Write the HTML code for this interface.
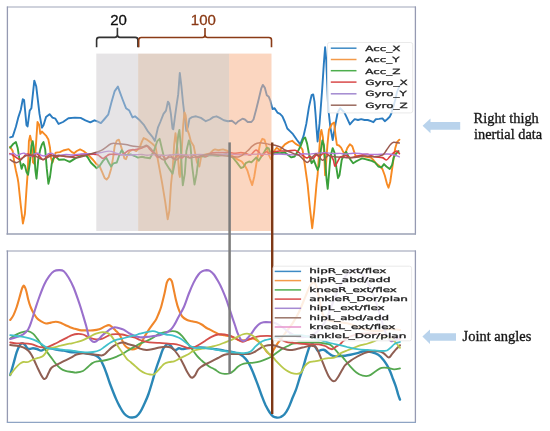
<!DOCTYPE html>
<html><head><meta charset="utf-8">
<style>
html,body{margin:0;padding:0;background:#fff;}
body{width:550px;height:431px;overflow:hidden;position:relative;}
svg{position:absolute;left:0;top:0;font-variant-ligatures:none;}
.lg{font-family:"DejaVu Sans",sans-serif;fill:#1e1e1e;stroke:#1e1e1e;stroke-width:0.3;}
.sf{font-family:"Liberation Serif",serif;fill:#161616;stroke:#161616;stroke-width:0.32;}
</style></head>
<body>
<svg width="550" height="431" viewBox="0 0 550 431">
<defs><filter id="bl" x="0" y="0" width="100%" height="100%" filterUnits="userSpaceOnUse"><feGaussianBlur stdDeviation="0.4"/></filter></defs>
<g filter="url(#bl)">
<rect x="0" y="0" width="550" height="431" fill="#fff"/>

<!-- top panel border -->
<line x1="6.9" y1="7" x2="416" y2="7" stroke="#bfc3d1" stroke-width="1.4"/>
<line x1="7.4" y1="6.5" x2="7.4" y2="234.5" stroke="#959ab2" stroke-width="1.3"/>
<line x1="415.4" y1="6.5" x2="415.4" y2="234.5" stroke="#959ab2" stroke-width="1.3"/>
<line x1="6.5" y1="233.9" x2="416" y2="233.9" stroke="#9aa0b4" stroke-width="1.5"/>

<!-- bottom panel border -->
<line x1="6.5" y1="251" x2="416" y2="251" stroke="#b8bccb" stroke-width="1.6"/>
<line x1="7.4" y1="250.5" x2="7.4" y2="422.5" stroke="#959ab2" stroke-width="1.3"/>
<line x1="415.4" y1="250.5" x2="415.4" y2="422.5" stroke="#959ab2" stroke-width="1.3"/>
<line x1="6.8" y1="422.4" x2="416" y2="422.4" stroke="#8ea4c4" stroke-width="1.2"/>

<!-- brackets -->
<path d="M96.6 47.3 V40 Q96.6 37.4 99.2 37.4 H114.8 Q117.4 37.4 117.4 34.6 V27.7 M117.4 34.6 Q117.4 37.4 120 37.4 H135.3 Q137.9 37.4 137.9 40 V47.3" fill="none" stroke="#303030" stroke-width="1.6"/>
<path d="M138.7 47.3 V40 Q138.7 37.5 141.3 37.5 H202.4 Q205 37.5 205 34.7 V28 M205 34.7 Q205 37.5 207.6 37.5 H268.9 Q271.5 37.5 271.5 40 V47.3" fill="none" stroke="#8a3a15" stroke-width="1.6"/>
<text x="110.2" y="25.2" font-family="'Liberation Sans',sans-serif" font-size="15" fill="#111" stroke="#111" stroke-width="0.3">20</text>
<text x="190.8" y="24.5" font-family="'Liberation Sans',sans-serif" font-size="15" fill="#8a3a15" stroke="#8a3a15" stroke-width="0.3" textLength="25" lengthAdjust="spacingAndGlyphs">100</text>

<!-- CURVES -->
<g fill="none" stroke-linejoin="round" stroke-linecap="round">
<path d="M10.2 137.4 L12.7 136.6 L15.9 126.8 L18.4 117.1 L20.8 109.8 L22.8 99.2 L24.1 100 L26.5 125.2 L27.6 126.5 L29.7 110.6 L31.4 108.2 L34.3 80.6 L36.2 86.2 L39.5 113.9 L41.9 127.7 L43.5 125.2 L46 117.1 L49.6 114.2 L52.5 117.6 L55.4 118.7 L58.6 123.9 L63 122 L68.4 118.2 L74.9 117.6 L80.6 117.9 L85.4 120.3 L90.3 122.3 L94.4 120.3 L96.8 121.2 L100.9 123.1 L104.1 119.5 L108.2 114.7 L111.4 102.5 L114.7 91.1 L117.9 86.6 L119.5 91.1 L122.8 100 L126 108.2 L129.3 110.6 L132.5 117.4 L135 116.3 L139.8 120.3 L144.1 125.2 L148.1 131.7 L152.2 136.6 L154.9 140.9 L157.9 127.7 L160.3 122 L163.5 113.9 L166 110.6 L167.9 101.7 L169.2 103.3 L170.9 113.9 L172.5 128.5 L173.3 129.3 L174.9 117.1 L176.5 105.7 L178.2 94.4 L179.8 72.9 L181.4 86.2 L183 102.5 L184.7 117.1 L186.3 130.9 L187.9 126.8 L189.5 118.7 L192 117.1 L196 116.3 L200.9 117.9 L205.8 121.2 L209.8 119.5 L213.2 117.1 L216.5 116.3 L219.7 117.9 L223.8 120.3 L227.9 121.2 L231.9 120.7 L233.5 122 L235.7 123.9 L238.4 121.2 L242.5 118.7 L244.9 119.5 L247.7 122 L251.4 122 L253.5 119.5 L256.3 109 L258.7 99.2 L261.2 88.7 L262.8 84.9 L264.9 87.9 L266.8 95.2 L268.8 96.8 L270.4 100.9 L272.5 109 L274.6 108.2 L277.4 112.6 L280 113.9 L282.4 116.3 L284.9 122 L287.3 128.5 L289.7 130.9 L293 134.2 L297 140 L300.3 144.4 L303.5 136.2 L306.3 123.9 L308.9 107.4 L310.5 100 L311.6 95.2 L313.2 94.4 L314.5 101.7 L315.6 115 L316.5 128 L317.6 141.5 L319.5 123.9 L320.6 110 L322.2 88.7 L323.8 64.4 L325.1 47.3 L326.2 59.5 L327.1 80.6 L327.9 101.7 L328.7 112.2 L330.3 126.8 L332.7 140 L335.5 123.9 L337.6 112.8 L340.1 108.2 L344.2 112.2 L346.6 117.1 L349.9 124.4 L352.3 121.7 L354.7 119.2 L358 120 L361.2 119.2 L364.5 120 L367.7 120 L371 121.2 L373.4 122.2 L375.9 119.2 L379.1 118.9 L382.4 118.4 L384.8 121.2 L387.2 119.2 L389.7 116.8 L391.3 113.5 L392.9 107.9 L395.3 99.7 L397 92 L399.5 86" stroke="#2a7bc0" stroke-width="1.9"/>
<path d="M10.2 146.9 L12.7 151 L14.3 162.4 L15.9 170.5 L17.6 178 L18.4 182.9 L20.8 205.6 L22.9 223.5 L24.9 213.7 L26.5 189.4 L27.8 171.5 L28.9 141.2 L30.1 135.6 L31.4 141.2 L33 162.4 L34.6 164 L36.2 141.2 L37.5 122 L39.2 125 L40.3 133.9 L41.9 131.5 L43.5 133.1 L46 135.6 L48.4 139.6 L50 147.7 L50.9 157.5 L52.5 162.4 L54.1 157.5 L55.7 152.6 L59.9 152.1 L63.2 150.5 L68.6 149.1 L71.9 152.1 L74.1 153.2 L76.8 151 L80.1 149.4 L83.4 151 L86.7 153.6 L90 156.8 L93.2 160 L96.5 164.1 L99.7 166.5 L102.2 172.2 L104.6 177.9 L106.6 179.5 L108.7 177.1 L111.1 169 L113.1 157.6 L114.7 146.2 L116.8 140.6 L118.9 139.7 L120.5 144.6 L122.5 151.1 L124.4 158.4 L126 159.2 L127.7 154.4 L129.8 151.1 L133 149.5 L136.3 151.1 L139.5 147.9 L142 141.4 L143.6 138.1 L147 139.7 L149.1 141.2 L152.3 143.7 L155.6 146.9 L158 160.7 L160.4 173.7 L162.1 182.9 L165.3 202.4 L167.7 219.4 L169.4 210.5 L171 184.5 L172.6 170 L174.2 144.5 L175.5 133.1 L177.5 149.4 L179.1 173.7 L179.9 177 L181.5 154.2 L183.2 125 L184.5 112.4 L185.6 115 L187.4 129.8 L189.1 134.4 L190.9 141.4 L193.7 146.1 L195.3 154.2 L197 162.4 L199.4 166.4 L201 157.5 L203.5 155 L206.7 154.2 L210 153.4 L213.2 150.2 L215 149.4 L218.1 150.2 L223 149.4 L227.9 151 L231.1 155 L234.4 157.5 L238.4 159.9 L241.7 161.5 L244.9 165.6 L247.4 170.5 L249.8 178.6 L252.2 185.1 L254.2 177 L256.3 164 L258.7 151 L260.3 142.9 L262.3 138.8 L264.4 139.6 L266 144.5 L267.7 151 L269.3 155.9 L270.9 159.1 L274.2 151 L276.6 147.7 L280 150 L284.9 144.4 L288.9 141.9 L292.2 140.8 L295.4 143.6 L297.9 145.2 L300 146.2 L302.5 149.6 L304.8 164.7 L307.6 184.4 L310 208.7 L312.2 228.2 L314.1 212 L316.5 184.4 L317.6 175.2 L319.1 152.6 L320.3 134.5 L321.4 130 L322.9 137.5 L324.4 157.1 L325.1 175.2 L325.9 166.2 L327.4 145.1 L328.9 130 L331.9 124 L334.1 122.5 L335.5 135.1 L336.9 144.8 L339 145.5 L341.1 147.6 L343.2 151.8 L345 154 L347.4 147.9 L349.9 144.3 L352.3 146.2 L353.9 151.1 L355.6 156 L358 156.8 L361.2 156 L366.1 156.8 L371 157.6 L373.4 160 L375.9 163.3 L379.1 165.7 L382.4 169 L384.8 175.5 L386.9 183.6 L388.5 187.7 L390.2 182 L392.1 169 L393.7 157.6 L395.3 147.9 L397 142.2 L399.4 139.7" stroke="#f78a22" stroke-width="1.9"/>
<path d="M10.2 147.7 L13.5 143.7 L15.9 142 L17.6 147.7 L19.2 157.5 L21.6 168.9 L23.2 164 L24.9 165.6 L26.5 172.1 L28.1 174.7 L29.7 164 L31.4 146.1 L32.7 141.2 L33.8 147.7 L35.4 170.5 L36.5 178.7 L38.3 159.1 L40.3 149.4 L41.9 144.5 L43.5 142 L45.2 149.4 L46.8 168.9 L48.4 183.7 L50 177 L51.7 164 L53.3 158.3 L55.7 156.5 L58.8 159.7 L64.3 159.5 L69.7 161.9 L75.7 158.1 L81.9 155.7 L85.9 155.2 L88.4 158.4 L90.8 162.5 L94.1 165.7 L96.5 168.2 L99.7 165.7 L103 160.9 L106.2 157.6 L108.7 162.5 L111.1 166.5 L113.5 163.3 L116.8 162.5 L119.6 154.4 L121.7 150.3 L124.1 153.6 L126.5 155.2 L130.6 154.4 L134.7 156 L137.9 157.6 L142 156.8 L145 157.5 L149.9 158.3 L153.9 151 L157.2 141.2 L159.6 138.8 L162.1 149.4 L165.3 162.4 L169.4 168.9 L172.6 173.7 L175.9 157.5 L178.3 134.7 L179.4 129.9 L180.7 144.5 L182 173.7 L182.8 185.3 L184.8 173.7 L186.4 151 L188.9 140.4 L190.5 146.1 L192.1 165.6 L194.5 184.5 L196.6 173.7 L198.6 157.5 L201 155.9 L205.1 156.7 L210 155 L218.1 155.9 L226.2 154.2 L232.7 157.5 L236.8 162.4 L240.9 168 L243.3 167.2 L245.7 163.2 L249 161.5 L251.4 162.4 L253.9 159.9 L256.3 157.5 L258.7 160.7 L261.2 156.7 L264.4 151.8 L266.8 147.7 L268.8 148.5 L270.9 154.2 L275 152.6 L280 153.3 L284.9 152.5 L288.1 154.9 L291.4 157.4 L294.6 156.5 L298 151.1 L301 145.1 L303.3 139 L305.2 137.5 L307.1 143.6 L309.3 155.6 L311.6 163.2 L313.8 160.1 L316.1 166.2 L317.6 169.9 L319.1 166.2 L320.9 149.6 L322.4 140.5 L323.9 145.1 L325.1 160.1 L326.6 179.7 L327.7 188.8 L328.9 175.2 L330.4 157.1 L332.7 148.1 L334.5 152.6 L336.4 167.7 L338 178.2 L339.5 175.2 L341.7 160.1 L344 154.1 L346.2 151.9 L348.2 156 L350.7 160 L353.1 163.3 L355.6 161.7 L358.8 160 L362.1 158.4 L365.3 159.2 L368.6 160 L371.8 160.9 L375 162.5 L378.3 166.5 L381.5 167.4 L384 164.1 L386.4 166.5 L389.7 169 L392.1 164.9 L393.7 157.6 L396.2 153.6 L398.6 151.1" stroke="#3aa03a" stroke-width="1.9"/>
<path d="M10 153.6 C10.6 153.9 12.2 154.8 13.3 155.5 C14.4 156.2 15.7 157.1 16.8 157.8 C17.9 158.5 19 159.6 20.1 159.5 C21.2 159.4 22.3 157.9 23.4 157 C24.5 156.1 25.5 154.6 26.6 154.2 C27.7 153.8 28.9 154.2 30 154.6 C31.1 155 32.1 156.7 33.2 156.5 C34.3 156.3 35.4 153.4 36.5 153.4 C37.6 153.4 38.6 155.4 39.7 156.5 C40.8 157.6 41.9 159.6 43 159.8 C44.1 160 45.1 158.3 46.2 157.5 C47.3 156.7 48.4 155 49.5 154.7 C50.6 154.4 51.6 155.2 52.7 155.6 C53.8 156 54.8 157.2 56 157.2 C57.2 157.2 58.3 155.9 60 155.8 C61.7 155.7 64.1 156.5 66 156.7 C67.9 156.8 69.6 156.9 71.4 156.7 C73.2 156.4 74.5 155.6 77 155.2 C79.5 154.8 83.5 154.5 86.7 154.4 C90 154.3 94.3 154.1 96.5 154.4 C98.7 154.8 98.9 155.8 100 156.5 C101.1 157.2 102 158.4 103 158.4 C104 158.4 104.9 157.2 106 156.5 C107.1 155.8 107.8 154.8 109.5 154.4 C111.2 154.1 113.8 154.4 116 154.4 C118.2 154.4 120.3 155.1 122.5 154.4 C124.7 153.7 126.8 151.1 129 150.3 C131.2 149.5 133.3 149.9 135.5 149.5 C137.7 149.1 140.1 148.5 142 147.9 C143.9 147.3 145.7 145.9 147 146.2 C148.3 146.5 148.8 148.3 150 149.5 C151.2 150.7 152.7 152.2 154 153.5 C155.3 154.8 156.7 157.2 158 157.5 C159.3 157.8 160.7 155 162 155.2 C163.3 155.4 164.7 158.6 166 158.6 C167.3 158.6 168.7 155.2 170 155.2 C171.3 155.2 172.7 158.6 174 158.6 C175.3 158.6 176.7 155.3 178 155.2 C179.3 155.1 180.7 158.1 182 158 C183.3 157.9 184.7 154.5 186 154.5 C187.3 154.5 188.7 157.7 190 157.8 C191.3 157.9 192.7 155.2 194 155.2 C195.3 155.2 196.7 157.8 198 157.8 C199.3 157.8 200.7 155.4 202 155.2 C203.3 155 204.7 156.9 206 156.6 C207.3 156.3 208 154.1 210 153.4 C212 152.7 214.8 152.7 218 152.6 C221.2 152.5 226.8 152.5 229.5 152.6 C232.2 152.7 232.5 153.4 234.4 153.4 C236.3 153.4 239 152.6 240.9 152.6 C242.8 152.6 244.1 153 245.7 153.4 C247.3 153.8 249 155.5 250.6 155 C252.2 154.5 254.2 150.7 255.5 150.2 C256.9 149.7 257.6 150.9 258.7 151.8 C259.8 152.8 260.8 155.9 262 155.9 C263.2 155.9 264.8 152.2 266 151.8 C267.2 151.4 267.9 153.4 269.3 153.4 C270.7 153.4 272.4 152.2 274.2 151.8 C276 151.4 277.9 151.1 280 151 C282.1 150.9 284.5 151.1 287 151 C289.5 150.9 293.2 150.2 295 150.3 C296.8 150.5 297 151.3 298 151.9 C299 152.5 300 153.3 301 154.1 C302 154.8 303 155.8 304 156.4 C305 157 306.1 157.9 307.1 157.9 C308.1 157.9 309.1 156.3 310.1 156.4 C311.1 156.5 312.1 158.8 313.1 158.6 C314.1 158.3 315.1 155.3 316.1 154.9 C317.1 154.5 318.1 156.5 319.1 156.4 C320.1 156.3 321.1 154.7 322.1 154.1 C323.1 153.5 324.1 152.5 325.1 152.6 C326.1 152.7 327.2 154.3 328.2 154.9 C329.2 155.5 330.3 155.5 331.2 156.4 C332.1 157.3 332.8 158.5 333.4 160.1 C334 161.7 334.3 165.8 334.9 166.2 C335.5 166.6 336.3 163.9 337.2 162.4 C338.1 160.9 339.2 158.1 340.2 157.1 C341.2 156.1 342.2 156.7 343.2 156.4 C344.2 156.2 345.1 155.4 346.2 155.6 C347.3 155.8 348.5 157.4 349.9 157.6 C351.3 157.8 352.8 157.2 354.7 156.8 C356.6 156.4 359 155.6 361.2 155.2 C363.4 154.8 365.5 154.1 367.7 154.4 C369.9 154.7 371.8 156.3 374.2 156.8 C376.6 157.3 380.4 157.1 382.4 157.6 C384.4 158.1 385.2 160.1 386.4 160 C387.6 159.9 388.5 158 389.7 156.8 C390.9 155.6 392.5 153.6 393.7 152.7 C394.9 151.8 396.1 150.9 397 151.1 C397.9 151.2 399 153.2 399.4 153.6" stroke="#dc3a3c" stroke-width="1.6"/>
<path d="M10 154.5 C10.6 154.3 12.3 153.1 13.5 153.3 C14.7 153.5 15.8 155.7 17 155.8 C18.2 155.9 19.3 154.4 20.5 154 C21.7 153.6 22.8 153 24 153.2 C25.2 153.4 26.3 154.7 27.5 155.2 C28.7 155.7 29.8 156.4 31 156.2 C32.2 156 33.3 154.5 34.5 154 C35.7 153.5 36.8 152.9 38 153.2 C39.2 153.4 40.3 155.1 41.5 155.5 C42.7 155.9 43.8 156.1 45 155.8 C46.2 155.5 47.3 154 48.5 153.6 C49.7 153.2 50.8 153.1 52 153.4 C53.2 153.7 54.2 155 55.5 155.3 C56.8 155.6 58.2 155.3 60 155.2 C61.8 155 64 154.4 66 154.4 C68 154.4 70.2 155 72 155 C73.8 155 74.8 154.6 77 154.4 C79.2 154.2 82.3 153.9 85 153.8 C87.7 153.7 90.5 153.8 93.2 153.6 C95.9 153.4 98.3 153 101 152.6 C103.7 152.2 106.8 150.9 109.5 151.1 C112.2 151.2 114.3 152.8 117 153.5 C119.7 154.2 122.9 155 125.7 155.2 C128.5 155.4 131.3 154.9 134 154.8 C136.7 154.7 139.8 154.3 142 154.4 C144.2 154.5 144.8 155.2 147 155.2 C149.2 155.2 152.3 154.6 155 154.6 C157.7 154.6 160.5 155.3 163 155.4 C165.5 155.5 167.5 155.2 170 155 C172.5 154.8 175.3 154.3 178 154.3 C180.7 154.3 183.3 155.1 186 155.2 C188.7 155.2 191.7 154.7 194 154.6 C196.3 154.5 196.8 154.5 200 154.5 C203.2 154.5 208.7 154.9 213 154.8 C217.3 154.8 221 154.2 226 154.2 C231 154.2 237.3 154.8 243 154.8 C248.7 154.8 255.5 154 260 154 C264.5 154 266.7 154.6 270 154.6 C273.3 154.6 275.8 153.9 280 154 C284.2 154.1 291.2 154.9 295 154.9 C298.8 154.9 300.5 153.9 303 153.8 C305.5 153.7 307.8 154.2 310.1 154.1 C312.4 154 314.5 153.4 317 153.2 C319.5 152.9 322.4 152.5 325.1 152.6 C327.8 152.7 330.5 153.5 333 153.6 C335.5 153.7 338.2 153.3 340.2 153.4 C342.2 153.5 342.9 154 345 154 C347.1 154 350.3 153.3 353 153.2 C355.7 153.1 358.5 153.4 361.2 153.6 C363.9 153.8 366.3 154.4 369 154.5 C371.7 154.6 374.5 154.5 377.5 154.4 C380.5 154.3 384.5 153.9 387.2 154 C389.9 154.1 391.7 154.2 393.7 154.7 C395.7 155.2 398.4 156.5 399.4 156.8" stroke="#b07ad8" stroke-width="1.4"/>
<path d="M10.2 159.6 C10.8 160 12.4 161.3 13.5 161.8 C14.6 162.3 15.7 162.8 16.8 162.6 C17.9 162.4 19 161.5 20.1 160.7 C21.2 159.8 22.3 158.4 23.4 157.5 C24.5 156.6 25.5 155.8 26.6 155.5 C27.7 155.2 28.9 155.7 30 155.6 C31.1 155.5 32.1 154.8 33.2 154.9 C34.3 155.1 35.4 155.9 36.5 156.5 C37.6 157.1 38.6 158 39.7 158.5 C40.8 159 41.9 159.5 43 159.5 C44.1 159.5 45.1 158.9 46.2 158.4 C47.3 157.9 48.4 157 49.5 156.5 C50.6 156 51.6 155.7 52.7 155.6 C53.8 155.5 55 155.8 56 155.8 C57 155.8 57 155.4 59 155.5 C61 155.6 65 156.2 68 156.5 C71 156.8 73.3 158 77 157.6 C80.7 157.2 85.9 155.2 90 154 C94.1 152.8 97.9 152 101.4 150.3 C104.9 148.6 108.4 144.9 111.1 143.8 C113.8 142.7 115.2 143.7 117.6 143.8 C120 143.9 123 144.2 125.7 144.6 C128.4 145 131.1 145.8 133.8 146.2 C136.5 146.6 139.8 147.1 142 147 C144.2 146.9 145.3 144.9 147 145.4 C148.7 145.9 150.2 148.2 152 150 C153.8 151.8 156 154.3 158 156 C160 157.7 162 159.8 164 160 C166 160.2 168 157 170 157 C172 157 174 160.2 176 160 C178 159.8 179.7 156.3 182 156 C184.3 155.7 187 158 190 158 C193 158 196.7 156.6 200 156 C203.3 155.4 205.6 154.2 210 154.2 C214.4 154.2 221.3 155.5 226.2 155.9 C231.1 156.3 235.7 157.5 239.2 156.7 C242.7 155.9 245.2 152.8 247.4 151 C249.6 149.2 250.6 147.4 252.2 146.1 C253.8 144.8 255.5 143.7 257.1 143.2 C258.7 142.7 260.1 142.7 262 142.9 C263.9 143.1 266.3 143.8 268.5 144.2 C270.7 144.6 273.1 144.9 275 145.3 C276.9 145.8 278.3 146.1 280 146.9 C281.7 147.7 283.3 149.2 285 150 C286.7 150.8 288.3 151.3 290 152 C291.7 152.7 293.4 153.5 295 154.1 C296.6 154.7 298 154.6 299.5 155.6 C301 156.6 302.7 159 304 160.1 C305.3 161.2 306.1 162.4 307.1 162.4 C308.1 162.4 309.1 161.1 310.1 160.1 C311.1 159.1 312.1 157.4 313.1 156.4 C314.1 155.4 315.1 154.1 316.1 154.1 C317.1 154.1 318.1 155.4 319.1 156.4 C320.1 157.4 321.1 159.7 322.1 160.1 C323.1 160.5 324.1 159.3 325.1 158.6 C326.1 157.8 326.9 156 328.2 155.6 C329.5 155.2 331.2 156.2 332.7 156.4 C334.2 156.7 335.1 156.9 337.2 157.1 C339.2 157.3 342.1 157.5 345 157.6 C347.9 157.7 351.4 157.9 354.7 157.6 C357.9 157.3 361.2 156.1 364.5 156 C367.8 155.9 371.2 156.9 374.2 156.8 C377.2 156.7 380.4 156.3 382.4 155.2 C384.4 154.1 385 152.1 386.4 150.3 C387.8 148.5 389.3 145.9 390.5 144.6 C391.7 143.2 392.2 142.5 393.7 142.2 C395.2 141.9 398.4 142.9 399.4 143" stroke="#9a5a50" stroke-width="1.5"/>
</g>
<!-- shaded overlays -->
<rect x="96.3" y="53.6" width="41.8" height="177.4" fill="#cdc9cd" fill-opacity="0.5"/>
<rect x="138.1" y="53.6" width="91" height="177.4" fill="#d2baa9" fill-opacity="0.65"/>
<rect x="229.1" y="53.6" width="42.4" height="177.4" fill="#f8b48c" fill-opacity="0.55"/>
<g fill="none" stroke-linejoin="round" stroke-linecap="round">
<path d="M10.2 375 C10.8 373.1 12.4 367.4 13.5 363.6 C14.6 359.8 15.6 355.3 16.7 352.2 C17.8 349.1 19.1 346.4 20 344.9 C20.9 343.4 21.6 343.3 22.4 343.3 C23.2 343.3 24.1 344.1 24.9 344.9 C25.7 345.7 26.5 347.5 27.3 348.2 C28.1 348.9 28.8 349 29.7 349 C30.6 349 31.8 348.2 33 348.2 C34.2 348.2 35.6 348.6 37 349 C38.4 349.4 39.6 350.7 41.1 350.6 C42.6 350.5 44.4 348.6 46 348.2 C47.6 347.8 49 347.9 50.9 348.2 C52.8 348.5 55.1 349.4 57.3 349.8 C59.4 350.2 61.3 350.2 63.8 350.6 C66.2 351 69.3 351.9 72 352.2 C74.7 352.5 76.8 352.3 79.7 352.6 C82.6 352.9 86.8 353.5 89.5 354 C92.2 354.5 94.2 354.8 96 355.6 C97.8 356.4 98.8 357.3 100 358.9 C101.2 360.5 102.2 362.9 103.3 365.3 C104.4 367.7 105.4 370.5 106.5 373.5 C107.6 376.5 108.2 379 109.8 383.2 C111.4 387.4 114.3 394.9 116 398.9 C117.7 402.9 118.7 404.6 120 407 C121.3 409.4 122.7 411.9 124.1 413.5 C125.5 415.1 126.8 416 128.2 416.7 C129.5 417.4 130.8 417.6 132.2 417.5 C133.5 417.4 135 417.3 136.3 416.4 C137.7 415.4 139 413.9 140.3 411.8 C141.7 409.7 143 406.7 144.4 403.7 C145.8 400.7 147.2 397.8 148.5 394 C149.8 390.2 151.3 385.1 152.5 381 C153.7 376.9 154.6 373.3 155.8 369.6 C157 365.9 158.3 362.2 159.5 358.9 C160.7 355.6 161.6 352.1 162.7 349.8 C163.8 347.5 165.1 345.9 166 345 C166.9 344.1 167.6 344.1 168.4 344.2 C169.2 344.3 170.1 345.1 170.9 345.9 C171.7 346.7 172.5 348.4 173.3 349.1 C174.1 349.8 174.8 350 175.7 349.9 C176.6 349.8 177.9 348.4 179 348.3 C180.1 348.2 180.8 349.1 182.2 349.1 C183.5 349.1 185.5 348.6 187.1 348.3 C188.7 348 190.1 347.6 192 347.5 C193.9 347.4 196.3 347.4 198.5 347.5 C200.7 347.6 202.3 347.5 205 347.8 C207.7 348.1 211.4 348.6 214.7 349.1 C217.9 349.6 221.2 350.1 224.5 350.7 C227.8 351.2 231.5 351.7 234.2 352.4 C236.9 353.1 238.8 353.7 240.7 354.8 C242.6 355.9 244.2 357.4 245.6 358.9 C247 360.4 247.8 361.8 248.9 363.7 C250 365.6 251 367.8 252.1 370.2 C253.2 372.6 254.3 375.7 255.3 378.3 C256.3 380.9 257 382.6 258.1 385.6 C259.2 388.6 260.6 392.9 261.9 396.2 C263.1 399.5 264.4 402.7 265.6 405.3 C266.9 407.9 268.1 410.1 269.4 412 C270.7 413.9 271.9 415.7 273.2 416.6 C274.5 417.5 275.8 417.5 277 417.6 C278.2 417.7 279.4 417.6 280.7 417 C281.9 416.4 283.2 415.8 284.5 414.3 C285.8 412.9 287.1 410.8 288.3 408.3 C289.6 405.8 290.8 402.2 292 399.2 C293.2 396.2 294.5 393.7 295.8 390.2 C297.1 386.7 298.4 382 299.6 378.1 C300.9 374.2 302.2 370.8 303.3 367.1 C304.4 363.4 305.4 359.2 306.5 355.7 C307.6 352.2 308.9 347.9 309.8 346 C310.8 344.1 311.4 344 312.2 344 C313 344 313.8 344.9 314.7 346 C315.6 347.1 316.8 350.2 317.9 350.9 C319 351.6 320.1 350.1 321.2 350 C322.3 349.9 323.3 349.6 324.4 350 C325.5 350.4 326.6 351.7 327.7 352.5 C328.8 353.3 329.8 354.3 330.9 354.9 C332 355.5 332.7 356.1 334.2 356.3 C335.7 356.5 338.2 356.1 340 356 C341.8 355.9 343.5 355.9 345.2 355.7 C346.9 355.5 348.4 355.2 350.4 354.8 C352.4 354.4 355.1 353.7 357.4 353.1 C359.7 352.5 362.1 351.5 364.4 351.3 C366.7 351.1 369 351.6 371.3 352.2 C373.6 352.8 376.3 353.5 378.3 354.8 C380.3 356.1 382.1 358.3 383.5 360 C384.9 361.7 385.8 363.2 387 365.2 C388.2 367.2 389.5 369.9 390.5 372.2 C391.5 374.5 392.2 376.9 393.1 379.2 C394 381.5 394.8 383.5 395.7 386.1 C396.6 388.7 397.6 392.7 398.3 395 C399 397.3 399.7 398.9 400 399.7" stroke="#2c87b6" stroke-width="2.4"/>
<path d="M10.2 320 C10.8 319.2 12.4 317.3 13.5 315.1 C14.6 312.9 15.6 310.2 16.7 307 C17.8 303.8 19.1 298.9 20 295.6 C20.9 292.4 21.7 289.1 22.4 287.5 C23.1 285.9 23.5 285.4 24.1 285.9 C24.7 286.4 25.5 288.5 26.2 290.7 C26.9 292.9 27.4 296.2 28.1 298.9 C28.8 301.6 29.7 304.6 30.6 307 C31.6 309.4 32.7 311.6 33.8 313.5 C34.9 315.4 35.8 317 37 318.3 C38.2 319.6 39.6 320.4 41.1 321.3 C42.6 322.2 44.4 323.3 46 323.5 C47.6 323.7 49.3 322.9 50.9 322.6 C52.5 322.3 54.1 321.8 55.7 321.8 C57.3 321.8 59.1 322.3 60.6 322.8 C62.1 323.3 63.1 324.1 64.7 324.8 C66.3 325.5 68.3 326.5 70 327.2 C71.7 327.9 73.3 328.3 74.9 328.8 C76.5 329.3 77.8 329.8 79.7 330.1 C81.6 330.4 84 330.3 86.2 330.4 C88.4 330.4 90.5 330.6 92.7 330.4 C94.9 330.2 97.2 330 99.2 329.3 C101.2 328.6 103.3 327.1 104.9 326.4 C106.5 325.7 107.8 325 109 325.1 C110.2 325.2 111.1 326.3 112.2 327.2 C113.3 328.1 114.4 329.3 115.5 330.4 C116.6 331.5 117.8 332.5 118.7 333.7 C119.7 334.9 120.5 336.3 121.2 337.7 C121.9 339.1 122.1 340.4 122.8 341.8 C123.5 343.2 124.2 344.8 125.2 345.9 C126.2 347 127.3 347.7 128.5 348.3 C129.7 348.9 131.2 349.4 132.5 349.4 C133.8 349.4 135.3 348.9 136.6 348.3 C137.8 347.7 138.6 347.5 140 345.5 C141.4 343.5 143.4 338.8 144.9 336.1 C146.4 333.5 147.6 331.6 148.9 329.6 C150.2 327.6 151.8 325.6 153 323.9 C154.2 322.2 155.3 320.8 156.2 319.2 C157.1 317.6 157.7 316 158.5 314 C159.3 312 160.1 310.3 161.1 307 C162.1 303.7 163.4 298.1 164.4 294 C165.4 289.9 166 285.1 166.8 282.6 C167.6 280.1 168.4 279.3 169.2 279 C170 278.7 171 279.6 171.7 281 C172.4 282.4 172.6 284.5 173.3 287.5 C174 290.5 174.8 295.1 175.7 298.9 C176.6 302.7 177.9 307.3 179 310.2 C180.1 313.1 180.8 314.9 182.2 316.5 C183.5 318.1 185.5 319.2 187.1 320 C188.7 320.8 190.4 320.9 192 321.3 C193.6 321.7 195.2 321.8 196.8 322.3 C198.4 322.8 200.1 323.6 201.7 324.5 C203.3 325.4 205.2 327.1 206.6 328 C208 328.9 208.7 328.9 210 329.6 C211.3 330.3 213.1 331.3 214.7 332.1 C216.3 332.9 218 334 219.6 334.5 C221.2 335 222.9 335 224.5 335.3 C226.1 335.6 227.8 335.7 229.4 336.1 C231 336.5 232.6 337 234.2 337.7 C235.8 338.4 237.5 339.8 239.1 340.2 C240.7 340.6 242.4 340.3 244 340.2 C245.6 340.1 247.3 339.7 248.9 339.4 C250.5 339.1 252.2 338.3 253.7 338.6 C255.2 338.9 256.6 340.1 257.8 341 C259 341.9 259.9 343 261 344.2 C262.1 345.4 263.2 346.9 264.3 348.3 C265.4 349.7 266.4 351.3 267.5 352.4 C268.6 353.5 269.8 355.2 270.8 354.8 C271.8 354.4 272.3 352 273.5 350 C274.7 348 276.5 345 278.1 342.7 C279.7 340.4 281.4 338.4 283 336.2 C284.6 334 286.3 331.9 287.9 329.7 C289.5 327.5 290.8 326.1 292.7 323.2 C294.6 320.2 296.9 316.4 299 312 C301.1 307.6 303.6 300.9 305.4 296.6 C307.2 292.3 308.7 288.3 310 286 C311.3 283.7 312.1 282.9 313 282.6 C313.9 282.3 314.7 282.4 315.5 284 C316.3 285.6 317.2 288.5 318 292 C318.8 295.5 319.7 301.2 320.5 305 C321.3 308.8 321.9 312.6 323 315 C324.1 317.4 325 318.4 327 319.5 C329 320.6 332.5 321 335 321.5 C337.5 322 339.5 322.1 342 322.5 C344.5 322.9 347 323.1 350 324 C353 324.9 356.7 326.9 360 328 C363.3 329.1 366.7 330 370 330.5 C373.3 331 376.7 331.2 380 331 C383.3 330.8 386.7 329.2 390 329 C393.3 328.8 398.3 329.8 400 330" stroke="#f0862a" stroke-width="2.1"/>
<path d="M10.2 338.4 C11.3 337.7 14.5 335.5 16.7 334.4 C18.9 333.3 21.3 332.4 23.2 331.9 C25.1 331.3 26.5 330.8 28.1 331.1 C29.7 331.4 31.5 332.4 33 333.6 C34.5 334.8 35.6 336.6 37 338.4 C38.4 340.1 39.6 342.1 41.1 344.1 C42.6 346.1 44.4 348.4 46 350.6 C47.6 352.8 49.3 354.9 50.9 357.1 C52.5 359.3 54.1 361.7 55.7 363.6 C57.3 365.5 59 367.3 60.6 368.5 C62.2 369.7 63.6 370.3 65.5 370.9 C67.4 371.5 70.2 371.7 72 372 C73.8 372.3 74.7 372.7 76.5 372.5 C78.3 372.3 81.1 371.9 83 371 C84.9 370.1 86.3 368.4 87.9 367 C89.5 365.6 91.1 363.8 92.7 362.9 C94.3 361.9 95.7 361.7 97.6 361.3 C99.5 360.9 101.9 360.9 104.1 360.5 C106.3 360.1 108.4 359.6 110.6 358.9 C112.8 358.2 114.9 357.3 117.1 356.4 C119.3 355.4 121.4 354.4 123.6 353.2 C125.8 352 128.2 350.2 130.1 349.1 C132 348 133.3 347.3 135 346.4 C136.7 345.5 138.1 344.5 140 343.6 C141.9 342.7 144.3 342 146.5 341 C148.7 340 150.8 338.9 153 337.7 C155.2 336.5 157.3 334.6 159.5 333.7 C161.7 332.8 163.8 332.5 166 332.1 C168.2 331.7 170.6 331.2 172.5 331.2 C174.4 331.2 175.8 331.3 177.4 332.1 C179 332.9 180.6 334.4 182.2 336.1 C183.8 337.9 185.5 340.4 187.1 342.6 C188.7 344.8 190.4 346.9 192 349.1 C193.6 351.3 195.2 353.7 196.8 355.6 C198.4 357.5 200.1 359 201.7 360.5 C203.3 362 205.2 363.4 206.6 364.5 C208 365.6 208.7 366.2 210 367 C211.3 367.8 213.1 368.4 214.7 369.4 C216.3 370.3 218 372 219.6 372.7 C221.2 373.4 222.9 373.7 224.5 373.8 C226.1 373.9 227.9 374 229.4 373.5 C230.9 373 232.1 372.1 233.4 371 C234.8 369.9 236.2 368.1 237.5 367 C238.8 365.9 239.9 365.1 241.5 364.5 C243.1 363.9 245.2 363.5 247.2 363.2 C249.2 362.9 251.5 362.9 253.7 362.6 C255.9 362.3 258 361.9 260.2 361.3 C262.4 360.7 264.8 359.7 266.7 358.9 C268.6 358.1 269.7 357.6 271.6 356.4 C273.5 355.2 276.2 353 278.1 351.7 C280 350.4 281.4 349.3 283 348.4 C284.6 347.4 286.3 346.8 287.9 346 C289.5 345.2 290.8 344.2 292.7 343.6 C294.6 343.1 297 342.9 299.2 342.7 C301.4 342.5 303.5 342.7 305.7 342.7 C307.9 342.7 310 342.7 312.2 342.7 C314.4 342.7 316.5 342.5 318.7 342.7 C320.9 342.9 323.3 343.3 325.2 343.6 C327.1 343.9 328.6 343.8 330.1 344.6 C331.6 345.4 332.9 347 334.2 348.4 C335.5 349.8 336.7 351.4 338 352.8 C339.3 354.2 340.8 355.3 342 356.5 C343.2 357.7 343.6 358.4 345 360 C346.4 361.6 348.3 364.2 350.2 366.3 C352.1 368.4 354.3 370.9 356.4 372.5 C358.5 374.1 360.6 375.2 362.7 375.7 C364.8 376.2 366.9 376.4 369 375.7 C371.1 375 373.2 372.8 375.3 371.5 C377.4 370.2 379.4 368.5 381.5 367.9 C383.6 367.3 385.7 367.6 387.8 367.9 C389.9 368.1 392.1 369.3 394.1 369.4 C396.1 369.5 399 368.6 400 368.4" stroke="#55a84f" stroke-width="1.8"/>
<path d="M10.2 342.5 C11.3 342.6 14.5 343.2 16.7 343.3 C18.9 343.4 20.8 343.2 23.2 343.3 C25.6 343.4 28.9 343.6 31.4 344.1 C33.9 344.6 36 345.9 37.9 346.5 C39.8 347.1 41.1 347.3 42.7 347.4 C44.3 347.5 45.7 347.6 47.6 347 C49.5 346.4 51.9 345.1 54.1 344.1 C56.3 343.1 58.4 342 60.6 340.9 C62.8 339.8 65.2 338.6 67.1 337.6 C69 336.7 70.3 335.8 72 335.2 C73.7 334.6 75.2 334.1 77 334 C78.8 333.9 80.9 333.9 83 334.5 C85.1 335.1 87.3 336.9 89.5 337.7 C91.7 338.5 93.8 339.2 96 339.4 C98.2 339.5 100.3 339.3 102.5 338.6 C104.7 337.9 106.8 336 109 335.3 C111.2 334.6 113.3 334.3 115.5 334.2 C117.7 334.1 119.8 334.2 122 334.5 C124.2 334.8 126.3 335.6 128.5 336.1 C130.7 336.6 133.1 337.1 135 337.7 C136.9 338.3 138.1 339.3 140 340 C141.9 340.7 144.3 341.4 146.5 341.8 C148.7 342.2 150.8 342.4 153 342.6 C155.2 342.8 157.3 342.8 159.5 342.9 C161.7 343 163.8 343.2 166 343.4 C168.2 343.6 170.3 343.6 172.5 343.9 C174.7 344.2 177.1 344.5 179 345 C180.9 345.5 182.3 346.1 183.9 346.7 C185.5 347.2 187.1 348.2 188.7 348.3 C190.3 348.4 192 348.1 193.6 347.5 C195.2 346.9 196.6 346.1 198.5 345 C200.4 343.9 202.8 342.4 205 341 C207.2 339.6 209.3 338 211.5 336.9 C213.7 335.8 215.8 334.9 218 334.5 C220.2 334.1 222.3 334.2 224.5 334.5 C226.7 334.8 228.8 335.3 231 336.1 C233.2 336.9 235.6 338.4 237.5 339.4 C239.4 340.3 240.8 341.7 242.4 341.8 C244 341.9 245.3 340.9 247.2 340.2 C249.1 339.5 251.5 338.4 253.7 337.7 C255.9 337 258 336.4 260.2 336.1 C262.4 335.8 264.8 335.8 266.7 335.8 C268.6 335.8 269.7 335.7 271.6 336.1 C273.5 336.5 275.6 337 278 338 C280.4 339 283.8 341.1 286.2 341.9 C288.6 342.7 290.5 342.4 292.7 342.7 C294.9 343 297 343.4 299.2 343.6 C301.4 343.8 303.5 343.9 305.7 344 C307.9 344.1 310 344.3 312.2 344.4 C314.4 344.5 316.5 344.1 318.7 344.4 C320.9 344.7 323.4 345.3 325.2 346 C327 346.7 328.1 347.9 329.3 348.4 C330.5 348.9 331.4 349.5 332.5 349.2 C333.6 348.9 334.6 347.6 335.8 346.8 C337.1 346 338.7 345.4 340 344.4 C341.3 343.4 341.8 342.2 343.5 340.9 C345.2 339.6 347.2 337.6 350 336.5 C352.8 335.4 356.7 334.5 360 334 C363.3 333.5 366.7 333.4 370 333.5 C373.3 333.6 376.7 333.9 380 334.5 C383.3 335.1 386.7 336.2 390 337 C393.3 337.8 398.3 338.7 400 339" stroke="#d4504c" stroke-width="1.8"/>
<path d="M10.2 339 C11.3 338.7 14.5 337.8 16.7 337 C18.9 336.2 21.3 335.6 23.2 334.4 C25.1 333.1 26.7 331.6 28.1 329.5 C29.5 327.4 30.2 325 31.4 321.5 C32.6 318 34 312.7 35.4 308.5 C36.8 304.3 38 300.6 39.5 296.5 C41 292.4 42.8 287.6 44.4 284.2 C46 280.8 47.6 278.3 49.2 276.1 C50.8 273.9 52.5 272.2 54.1 271.2 C55.7 270.2 57.4 270.1 59 270.1 C60.6 270.1 62.2 269.9 63.8 271.2 C65.4 272.5 67.1 275 68.7 277.7 C70.3 280.4 71.9 283.4 73.6 287.5 C75.3 291.6 77.3 297.5 78.9 302.1 C80.5 306.7 81.8 311.1 83 315.1 C84.2 319.1 85.2 322.5 86.2 326 C87.2 329.5 87.8 333.6 88.7 336.1 C89.7 338.6 90.8 340.1 91.9 341 C93 341.9 94.1 342.1 95.2 341.8 C96.3 341.5 97.2 340.5 98.4 339.4 C99.6 338.3 101.2 336.5 102.5 335.3 C103.8 334.1 105.2 333.2 106.5 332.1 C107.8 331 109.2 329.6 110.6 328.8 C112 328 113.3 327.3 114.7 327.2 C116.1 327.1 117.2 327.6 118.7 328 C120.2 328.4 122 328.8 123.6 329.6 C125.2 330.4 126.9 331.9 128.5 332.9 C130.1 333.8 131.4 334.6 133.3 335.3 C135.2 336 137.8 337 140 337.3 C142.2 337.6 144.3 337.1 146.5 336.9 C148.7 336.7 150.8 336.4 153 336.1 C155.2 335.8 157.3 335.8 159.5 335.3 C161.7 334.8 164.1 333.8 166 332.9 C167.9 331.9 169.4 331.1 170.9 329.6 C172.4 328.1 173.6 326 174.9 323.9 C176.2 321.8 177 319.8 178.5 317 C180 314.2 182.2 310.8 183.9 307 C185.6 303.2 187.1 298.1 188.7 294 C190.3 289.9 192 285.9 193.6 282.6 C195.2 279.4 197 276.4 198.5 274.5 C200 272.6 201.2 271.9 202.5 271.2 C203.8 270.5 205.4 270.2 206.6 270.1 C207.8 270.1 208.7 270.2 209.9 270.9 C211.1 271.6 212.6 272.8 213.9 274.5 C215.2 276.2 216.6 278.6 218 281 C219.4 283.4 220.8 286.1 222.1 289.1 C223.4 292.1 224.9 295.6 226.1 298.9 C227.3 302.1 228.3 305.4 229.4 308.6 C230.5 311.8 231.7 315.6 232.6 318.3 C233.5 321 234.1 322.6 234.9 325 C235.7 327.4 236.5 330.5 237.5 332.9 C238.5 335.3 239.6 338 240.7 339.4 C241.8 340.8 242.9 341.1 244 341 C245.1 340.9 246 339.8 247.2 338.6 C248.4 337.4 250 335.5 251.3 333.7 C252.7 331.9 254 329.6 255.3 328 C256.6 326.4 258 324.8 259.4 323.9 C260.8 322.9 261.7 322.6 263.5 322.3 C265.3 322 268.1 322.2 270 322.3 C271.9 322.4 273 322.2 275 323 C277 323.8 279.5 325.3 282 327 C284.5 328.7 287.5 331.4 290 333 C292.5 334.6 294.5 335.8 297 336.5 C299.5 337.2 302.5 337.2 305 337 C307.5 336.8 309.8 336 312 335 C314.2 334 315.8 333.2 318 331 C320.2 328.8 323 325.5 325 322 C327 318.5 328.2 314.5 330 310 C331.8 305.5 334 299.7 336 295 C338 290.3 340 285.7 342 282 C344 278.3 346.2 275 348 273 C349.8 271 351.3 270.3 353 270 C354.7 269.7 356.3 270.2 358 271 C359.7 271.8 361.3 273 363 275 C364.7 277 366.3 279.8 368 283 C369.7 286.2 371.3 289.8 373 294 C374.7 298.2 376.3 302.8 378 308 C379.7 313.2 381.5 320.3 383 325 C384.5 329.7 385.7 333.3 387 336 C388.3 338.7 389.7 340.3 391 341 C392.3 341.7 393.5 340.8 395 340 C396.5 339.2 399.2 336.7 400 336" stroke="#9a70cc" stroke-width="2.1"/>
<path d="M10.2 344.9 C11.3 345 14.5 345.3 16.7 345.7 C18.9 346.1 21.3 346.6 23.2 347.4 C25.1 348.2 26.7 349.4 28.1 350.6 C29.5 351.8 30.3 352.9 31.4 354.7 C32.5 356.5 33.5 358.9 34.6 361.2 C35.7 363.5 36.8 366.2 37.9 368.5 C39 370.8 40.2 373.3 41.1 375 C42 376.7 42.7 378.1 43.5 378.6 C44.3 379.1 45.2 379.1 46 378.2 C46.8 377.3 47.6 374.9 48.4 373.3 C49.2 371.7 49.9 369.7 50.9 368.5 C51.9 367.3 52.8 366.8 54.1 366 C55.5 365.2 57.1 364.6 59 363.6 C60.9 362.7 63.3 361.4 65.5 360.3 C67.7 359.2 70.2 358.1 72 357.1 C73.8 356.1 74.7 355.1 76.5 354.5 C78.3 353.9 80.8 353.3 83 353.2 C85.2 353.1 87.3 353.7 89.5 354 C91.7 354.3 94 354.6 96 354.8 C98 355 100 355.5 101.5 355.4 C103 355.3 103.8 354.9 105 354 C106.2 353.1 107.5 351.2 109 349.9 C110.5 348.5 112.3 347 113.9 345.9 C115.5 344.8 117.1 343.9 118.7 343.4 C120.3 342.8 122 342.5 123.6 342.6 C125.2 342.7 126.6 343.6 128.5 344.2 C130.4 344.8 133.1 345.2 135 345.9 C136.9 346.6 138.1 347.9 140 348.6 C141.9 349.3 144.3 349.8 146.5 349.9 C148.7 350 150.8 349.5 153 349.1 C155.2 348.7 157.3 347.9 159.5 347.5 C161.7 347.1 164.1 346.7 166 346.7 C167.9 346.7 169.6 347 170.9 347.5 C172.2 348 173 348.8 174.1 349.9 C175.2 351 176.3 352.5 177.4 354 C178.5 355.5 179.5 357 180.6 358.9 C181.7 360.8 182.8 363.1 183.9 365.3 C185 367.5 186 369.9 187.1 371.8 C188.2 373.7 189.4 375.8 190.3 376.7 C191.2 377.6 192 377.8 192.8 377.5 C193.6 377.2 194.4 376.3 195.2 375.1 C196 373.9 196.8 371.6 197.7 370.2 C198.6 368.8 199.7 367.9 200.9 367 C202.1 366.1 203.2 365.4 205 364.5 C206.8 363.6 209.3 362.4 211.5 361.3 C213.7 360.2 215.8 359.1 218 358 C220.2 356.9 222.3 355.5 224.5 354.8 C226.7 354.1 228.8 354.1 231 354 C233.2 353.9 235.3 354 237.5 354 C239.7 354 241.9 354 244 354 C246.1 354 248.1 354.2 250 353.8 C251.9 353.4 253.6 352.4 255.3 351.5 C257 350.6 258.6 349.2 260.2 348.3 C261.8 347.4 263.2 346.4 265.1 345.9 C267 345.3 269.7 345 271.6 345 C273.5 345 274.6 345.4 276.5 346 C278.4 346.6 280.8 347.7 283 348.4 C285.2 349.1 287.3 349.9 289.5 350 C291.7 350.1 293.8 349.6 296 349.2 C298.2 348.8 300.3 348.1 302.5 347.6 C304.7 347.1 307.2 346.3 309 346 C310.8 345.7 311.8 345.7 313 346 C314.2 346.3 315.4 346.5 316.3 347.6 C317.2 348.7 317.8 350.3 318.7 352.5 C319.6 354.7 320.9 357.9 322 360.6 C323.1 363.3 324.1 366.1 325.2 368.7 C326.3 371.3 327.4 374 328.5 376 C329.6 378 330.9 379.7 332 380.5 C333.1 381.3 334.1 381.3 335 380.9 C335.9 380.4 336.5 379.5 337.6 377.8 C338.7 376.1 340.5 372.6 341.8 370.5 C343.1 368.4 343.8 366.8 345.2 365.2 C346.6 363.6 348.4 362.3 350.4 360.9 C352.4 359.4 355.1 357.8 357.4 356.5 C359.7 355.2 362.1 354 364.4 353.1 C366.7 352.2 369 351.6 371.3 351.3 C373.6 351 376.3 351 378.3 351.3 C380.3 351.6 381.8 352.1 383.5 353.1 C385.2 354.1 387.2 357.3 388.7 357.4 C390.1 357.5 391 355.2 392.2 353.9 C393.4 352.6 394.4 351.1 395.7 349.6 C397 348.2 399.3 345.9 400 345.2" stroke="#8f5e52" stroke-width="2.0"/>
<path d="M10.2 375 C11 373.9 13.5 370.4 15.1 368.5 C16.7 366.6 18.6 364.7 20 363.6 C21.4 362.5 21.8 362.3 23.2 362 C24.6 361.7 26.5 362.4 28.1 362 C29.7 361.6 31.4 360.2 33 359.5 C34.6 358.8 36.3 358.4 37.9 357.9 C39.5 357.4 41.2 357.4 42.7 356.3 C44.2 355.2 45.7 352.8 46.8 351.4 C47.9 350 48 348.9 49.2 348.2 C50.4 347.5 52.2 347.8 54.1 347.4 C56 347 58.4 346.2 60.6 345.7 C62.8 345.1 65.2 344.5 67.1 344.1 C69 343.7 70.3 343.7 72 343.3 C73.7 342.9 75.2 342.5 77 342 C78.8 341.5 80.9 341.1 83 340.2 C85.1 339.3 87.3 338 89.5 336.9 C91.7 335.8 93.8 334.5 96 333.7 C98.2 332.9 100.6 332.2 102.5 332.1 C104.4 332 105.9 332.2 107.4 332.9 C108.9 333.6 110.2 334.8 111.4 336.1 C112.6 337.5 113.5 339.1 114.7 341 C115.9 342.9 117.4 345.5 118.7 347.5 C120 349.5 121.5 351.3 122.8 353.2 C124.1 355.1 125.5 357.4 126.8 358.9 C128.1 360.4 129.2 360.8 130.6 362 C132 363.2 133.9 365 135.5 366.4 C137.1 367.8 138.7 369.3 140.3 370.4 C141.9 371.5 143.6 372.5 145.2 373.2 C146.8 373.9 148.6 374.3 150.1 374.5 C151.6 374.7 153 374.8 154.2 374.2 C155.4 373.6 156.2 372.4 157.4 371.2 C158.6 370 159.9 368.2 161.1 367 C162.3 365.8 163.1 364.5 164.4 363.7 C165.8 362.9 167.6 362.5 169.2 362.1 C170.8 361.7 172.5 361.8 174.1 361.3 C175.7 360.8 177.4 359.7 179 358.9 C180.6 358.1 182.3 357.2 183.9 356.4 C185.5 355.6 187.1 354.9 188.7 354 C190.3 353.1 191.7 351.5 193.6 350.7 C195.5 349.9 198.2 349.5 200.1 349.1 C202 348.7 203.1 348.7 205 348.3 C206.9 347.9 209.3 347.2 211.5 346.7 C213.7 346.1 215.8 345.7 218 345 C220.2 344.3 222.3 343.4 224.5 342.6 C226.7 341.8 228.8 341.1 231 340.2 C233.2 339.2 235.6 337.8 237.5 336.9 C239.4 335.9 240.8 335 242.4 334.5 C244 334 245.6 333.6 247.2 333.7 C248.8 333.8 250.5 334.4 252.1 335.3 C253.7 336.2 255.5 337.9 257 339.4 C258.5 340.9 259.6 342.6 261 344.2 C262.4 345.8 263.7 347.5 265.1 349.1 C266.5 350.7 267.9 352.6 269.2 354 C270.5 355.4 272 356.2 273.2 357.4 C274.4 358.6 275.1 359.9 276.5 361.4 C277.9 362.9 279.8 364.8 281.4 366.3 C283 367.8 284.6 369.2 286.2 370.3 C287.8 371.4 289.4 372.2 291.1 372.8 C292.8 373.4 294.9 373.9 296.6 373.9 C298.3 373.8 299.7 373.8 301.1 372.5 C302.5 371.2 303.6 367.7 304.9 366 C306.2 364.3 307.5 363.2 309 362.4 C310.5 361.6 312.3 361.7 313.9 361.4 C315.5 361.1 317.1 361 318.7 360.6 C320.3 360.2 322 359.4 323.6 359 C325.2 358.6 326.6 358.5 328.5 358.2 C330.4 357.9 333.1 358.2 335 357.4 C336.9 356.6 338 354.6 340 353.5 C342 352.4 344.7 351.4 347 350.5 C349.3 349.6 351.6 348.7 353.9 347.8 C356.2 346.9 358.6 345.9 360.9 345.2 C363.2 344.5 365.5 344.2 367.8 343.5 C370.1 342.8 372.8 341.7 374.8 340.9 C376.8 340.1 378.1 339.1 380 338.5 C381.9 337.9 384 336.9 386 337 C388 337.1 390.2 337.8 392 339 C393.8 340.2 395.7 342.5 397 344 C398.3 345.5 399.5 347.2 400 347.8" stroke="#b9c94c" stroke-width="1.8"/>
<path d="M10.2 335.2 C11.3 335.3 14.5 335.7 16.7 336 C18.9 336.3 21 336.4 23.2 336.8 C25.4 337.2 27.5 337.7 29.7 338.4 C31.9 339.1 34 339.8 36.2 340.9 C38.4 342 40.8 343.7 42.7 344.9 C44.6 346.1 45.4 347.5 47.6 348.2 C49.8 348.9 53 348.7 55.7 349 C58.4 349.3 61.1 349.5 63.8 349.8 C66.5 350.1 69.8 350.3 72 350.6 C74.2 350.9 74.8 351.1 77 351.4 C79.2 351.7 82.3 352.2 85 352.3 C87.7 352.4 90.5 352.4 93 352 C95.5 351.6 98 350.9 100 350 C102 349.1 103.2 347.7 105 346.5 C106.8 345.3 108.8 343.7 110.6 342.6 C112.3 341.6 113.6 340.9 115.5 340.2 C117.4 339.5 119.8 339.2 122 338.6 C124.2 338.1 126.3 337.4 128.5 336.9 C130.7 336.3 133.1 335.8 135 335.3 C136.9 334.8 138.1 334.2 140 333.7 C141.9 333.2 144.3 332.5 146.5 332.1 C148.7 331.7 150.8 331.1 153 331.2 C155.2 331.3 157.3 332.3 159.5 332.9 C161.7 333.4 163.8 334.1 166 334.5 C168.2 334.9 170.3 334.8 172.5 335.3 C174.7 335.8 177.1 336.8 179 337.7 C180.9 338.6 182.3 339.8 183.9 341 C185.5 342.2 187.1 343.9 188.7 345 C190.3 346.1 191.7 347 193.6 347.5 C195.5 348 197.4 347.7 200.1 347.8 C202.8 347.9 207.8 348.1 210 348.3 C212.2 348.5 211.2 348.7 213.1 349.1 C215 349.5 218.5 350.2 221.2 350.7 C223.9 351.2 226.7 351.7 229.4 352 C232.1 352.3 235.1 352.5 237.5 352.7 C239.9 352.9 241.8 353.4 244 353.2 C246.2 353 248.6 352.6 250.5 351.5 C252.4 350.4 253.7 348.2 255.3 346.7 C256.9 345.2 258.6 343.7 260.2 342.6 C261.8 341.5 263.2 340.9 265.1 340.2 C267 339.5 269.5 339.1 271.6 338.6 C273.8 338.1 275.8 337.4 278 337 C280.2 336.6 282.7 336.3 285 336 C287.3 335.7 289.5 335.2 292 335 C294.5 334.8 297 334.7 300 335 C303 335.3 306.7 336.2 310 337 C313.3 337.8 316.7 339 320 340 C323.3 341 326.7 342.1 330 343 C333.3 343.9 337.2 344.5 340 345.2 C342.8 345.9 344.7 346.4 347 347 C349.3 347.6 351.6 348.3 353.9 348.7 C356.2 349.1 358.6 349.4 360.9 349.6 C363.2 349.8 365.5 349.8 367.8 349.9 C370.1 350 372.5 350.3 374.8 350.5 C377.1 350.7 379.8 351 381.8 351 C383.8 351 385.6 351 387 350.5 C388.4 350 389.3 348.8 390.5 347.8 C391.7 346.8 392.9 345.3 394 344.4 C395.1 343.5 396.4 343 397.4 342.6 C398.4 342.2 399.6 341.9 400 341.8" stroke="#3fc0cc" stroke-width="1.8"/>
</g>

<!-- vertical lines -->
<line x1="229.6" y1="142.4" x2="229.6" y2="373.8" stroke="#7b7b7b" stroke-width="2.5"/>
<line x1="272.2" y1="142.4" x2="272.2" y2="413.9" stroke="#7e3812" stroke-width="2.4"/>

<!-- top legend -->
<rect x="327.5" y="42.5" width="85.2" height="70.4" fill="#fff" fill-opacity="0.8" stroke="#e4e4e4" stroke-width="0.8" rx="2"/>
<g stroke-width="1.5">
<line x1="330.8" y1="48.2" x2="356.5" y2="48.2" stroke="#3d8ac4"/>
<line x1="330.8" y1="59.5" x2="356.5" y2="59.5" stroke="#f39a4a"/>
<line x1="330.8" y1="70.7" x2="356.5" y2="70.7" stroke="#4eae4e"/>
<line x1="330.8" y1="82.1" x2="356.5" y2="82.1" stroke="#d84a4a"/>
<line x1="330.8" y1="93.8" x2="356.5" y2="93.8" stroke="#a389d0"/>
<line x1="330.8" y1="105.2" x2="356.5" y2="105.2" stroke="#9a6a5e"/>
</g>
<g class="lg" font-size="7.1">
<text x="365.3" y="50.9" textLength="35.2" lengthAdjust="spacingAndGlyphs">Acc_X</text>
<text x="365.3" y="62.3" textLength="34.2" lengthAdjust="spacingAndGlyphs">Acc_Y</text>
<text x="365.3" y="73.6" textLength="35.2" lengthAdjust="spacingAndGlyphs">Acc_Z</text>
<text x="365.3" y="85.0" textLength="42.3" lengthAdjust="spacingAndGlyphs">Gyro_X</text>
<text x="365.3" y="96.3" textLength="41.4" lengthAdjust="spacingAndGlyphs">Gyro_Y</text>
<text x="365.3" y="107.7" textLength="42.3" lengthAdjust="spacingAndGlyphs">Gyro_Z</text>
</g>

<!-- bottom legend -->
<rect x="273" y="266.2" width="138.6" height="74.6" fill="#fff" fill-opacity="0.86" stroke="#e4e4e4" stroke-width="0.8" rx="2"/>
<g stroke-width="1.5">
<line x1="274.7" y1="271.4" x2="301.1" y2="271.4" stroke="#3d8ac4"/>
<line x1="274.7" y1="280.6" x2="301.1" y2="280.6" stroke="#f39a4a"/>
<line x1="274.7" y1="289.9" x2="301.1" y2="289.9" stroke="#4eae4e"/>
<line x1="274.7" y1="299.1" x2="301.1" y2="299.1" stroke="#d84a4a"/>
<line x1="274.7" y1="308.3" x2="301.1" y2="308.3" stroke="#a58ad2"/>
<line x1="274.7" y1="317.8" x2="301.1" y2="317.8" stroke="#9a7468"/>
<line x1="274.7" y1="327.0" x2="301.1" y2="327.0" stroke="#e795cc"/>
<line x1="274.7" y1="336.3" x2="301.1" y2="336.3" stroke="#8e8e8e"/>
</g>
<g class="lg" font-size="6.6">
<text x="309.3" y="273.1" textLength="77.0" lengthAdjust="spacingAndGlyphs">hipR_ext/flex</text>
<text x="309.3" y="282.4" textLength="81.3" lengthAdjust="spacingAndGlyphs">hipR_abd/add</text>
<text x="309.3" y="291.8" textLength="87.6" lengthAdjust="spacingAndGlyphs">kneeR_ext/flex</text>
<text x="309.3" y="301.1" textLength="98.7" lengthAdjust="spacingAndGlyphs">ankleR_Dor/plan</text>
<text x="309.3" y="310.4" textLength="75.3" lengthAdjust="spacingAndGlyphs">hipL_ext/flex</text>
<text x="309.3" y="319.8" textLength="79.7" lengthAdjust="spacingAndGlyphs">hipL_abd/add</text>
<text x="309.3" y="329.1" textLength="86.0" lengthAdjust="spacingAndGlyphs">kneeL_ext/flex</text>
<text x="309.3" y="338.4" textLength="97.0" lengthAdjust="spacingAndGlyphs">ankleL_Dor/plan</text>
</g>

<!-- arrows -->
<path d="M422.6 125.8 L430.5 118.6 V122.1 H460.2 V129.8 H430.5 V133.2 Z" fill="#b9d3ec"/>
<path d="M422.4 336.5 L430 329.6 V333.3 H456 V340.7 H430 V343.9 Z" fill="#b9d3ec"/>

<!-- right labels -->
<text class="sf" x="473.6" y="123" font-size="14.4" textLength="65.2" lengthAdjust="spacingAndGlyphs">Right thigh</text>
<text class="sf" x="474" y="139.2" font-size="14.4" textLength="68.2" lengthAdjust="spacingAndGlyphs">inertial data</text>
<text class="sf" x="462.5" y="340.6" font-size="14.2" textLength="68.8" lengthAdjust="spacingAndGlyphs">Joint angles</text>
</g>
</svg>
</body></html>
